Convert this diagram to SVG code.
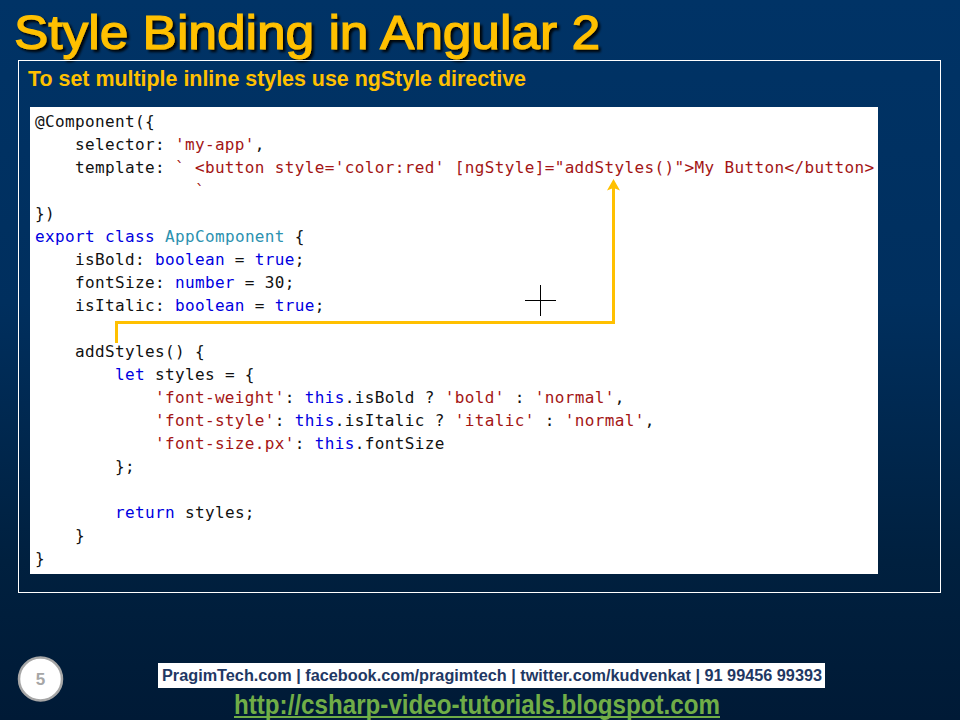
<svg xmlns="http://www.w3.org/2000/svg" width="960" height="720" viewBox="0 0 960 720">
<style>
.c{font-family:"DejaVu Sans Mono","Liberation Mono",monospace;font-size:16px;letter-spacing:.36px;fill:#111;white-space:pre}
.k{fill:#0000e0}.s{fill:#a31515}.t{fill:#2b91af}
.h{font-family:"Liberation Sans",Arial,sans-serif}
</style>
<defs>
<linearGradient id="bg" x1="0" y1="0" x2="0" y2="1">
<stop offset="0" stop-color="#003366"/><stop offset=".42" stop-color="#002f5e"/><stop offset=".78" stop-color="#00203f"/><stop offset="1" stop-color="#001a36"/>
</linearGradient>
<filter id="shadow" x="-5%" y="-20%" width="110%" height="140%">
<feDropShadow dx="2.500" dy="2.500" stdDeviation="1" flood-color="#000" flood-opacity=".9"/>
</filter>
<marker id="ah" markerUnits="userSpaceOnUse" markerWidth="14" markerHeight="14" refX="7" refY="7" orient="auto">
<path d="M0.500 0.500L12 7L0.500 13.500L3 7Z" fill="#ffc000"/>
</marker>
</defs>
<rect width="960" height="720" fill="url(#bg)"/>
<g id="title">
<text class="h" x="14" y="49" font-size="49" stroke="#ffc000" stroke-width="1.200" textLength="586" lengthAdjust="spacingAndGlyphs" fill="#ffc000" filter="url(#shadow)">Style Binding in Angular 2</text>
</g>
<g id="panel">
<rect x="18.500" y="60.500" width="922" height="532" fill="none" stroke="#fff"/>
<text class="h" x="28" y="86" font-size="22" font-weight="700" textLength="498" lengthAdjust="spacingAndGlyphs" fill="#ffc000">To set multiple inline styles use ngStyle directive</text>
</g>
<g id="code">
<rect x="30" y="107" width="848" height="467" fill="#fff"/>
<text class="c" x="35" y="127">@Component({</text>
<text class="c" x="35" y="150">    selector: <tspan class="s">'my-app'</tspan>,</text>
<text class="c" x="35" y="173">    template: <tspan class="s">` &lt;button style='color:red' [ngStyle]="addStyles()"&gt;My Button&lt;/button&gt;</tspan></text>
<text class="c s" x="35" y="196">                `</text>
<text class="c" x="35" y="219">})</text>
<text class="c" x="35" y="242"><tspan class="k">export</tspan> <tspan class="k">class</tspan> <tspan class="t">AppComponent</tspan> {</text>
<text class="c" x="35" y="265">    isBold: <tspan class="k">boolean</tspan> = <tspan class="k">true</tspan>;</text>
<text class="c" x="35" y="288">    fontSize: <tspan class="k">number</tspan> = 30;</text>
<text class="c" x="35" y="311">    isItalic: <tspan class="k">boolean</tspan> = <tspan class="k">true</tspan>;</text>
<text class="c" x="35" y="357">    addStyles() {</text>
<text class="c" x="35" y="380">        <tspan class="k">let</tspan> styles = {</text>
<text class="c" x="35" y="403">            <tspan class="s">'font-weight'</tspan>: <tspan class="k">this</tspan>.isBold ? <tspan class="s">'bold'</tspan> : <tspan class="s">'normal'</tspan>,</text>
<text class="c" x="35" y="426">            <tspan class="s">'font-style'</tspan>: <tspan class="k">this</tspan>.isItalic ? <tspan class="s">'italic'</tspan> : <tspan class="s">'normal'</tspan>,</text>
<text class="c" x="35" y="449">            <tspan class="s">'font-size.px'</tspan>: <tspan class="k">this</tspan>.fontSize</text>
<text class="c" x="35" y="472">        };</text>
<text class="c" x="35" y="518">        <tspan class="k">return</tspan> styles;</text>
<text class="c" x="35" y="541">    }</text>
<text class="c" x="35" y="564">}</text>
</g>
<g id="connectors">
<path d="M116.500 343V322.500H613.500V184" fill="none" stroke="#ffc000" stroke-width="3" marker-end="url(#ah)"/>
</g>
<g id="cursor">
<path d="M540.500 285V316M525 300.500H556" fill="none" stroke="#000" stroke-width="1"/>
</g>
<g id="page-number">
<circle cx="40.500" cy="679" r="21.500" fill="#fff" stroke="#a6a6a6" stroke-width="2.500"/>
<text class="h" x="40.500" y="685" font-size="17" font-weight="700" text-anchor="middle" fill="#a6a6a6">5</text>
</g>
<g id="footer">
<rect x="158" y="663" width="667" height="25" fill="#fff"/>
<text class="h" x="162" y="681" font-size="16" font-weight="700" textLength="660" lengthAdjust="spacingAndGlyphs" fill="#1f3864">PragimTech.com | facebook.com/pragimtech  | twitter.com/kudvenkat  | 91 99456 99393</text>
<text class="h" x="234" y="714" font-size="27" font-weight="700" textLength="486" lengthAdjust="spacingAndGlyphs" fill="#70ad47">http://csharp-video-tutorials.blogspot.com</text>
<rect x="234" y="716" width="486" height="2" fill="#70ad47"/>
</g>
</svg>
